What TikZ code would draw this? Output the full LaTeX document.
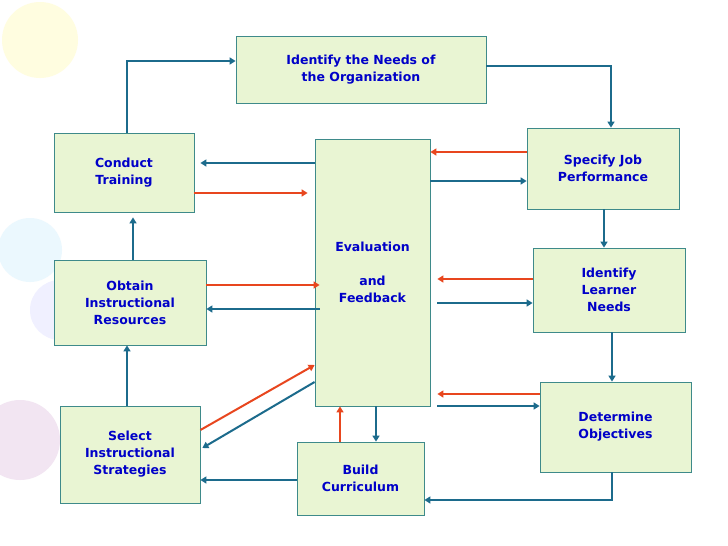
\documentclass[tikz,border=0pt]{standalone}
\usepackage{fontspec}
\setmainfont{DejaVu Sans}
\usetikzlibrary{arrows.meta}
\definecolor{boxf}{HTML}{E9F5D3}
\definecolor{boxd}{HTML}{3E8A8A}
\definecolor{txt}{HTML}{0000C8}
\definecolor{tl}{HTML}{1C6B8C}
\definecolor{og}{HTML}{E8461E}
\begin{document}
\begin{tikzpicture}[x=1pt,y=-1pt,
 box/.style={draw=boxd,fill=boxf,line width=0.8pt,align=center,text=txt,font=\bfseries\fontsize{12.5}{17}\selectfont,inner sep=0pt},
 t/.style={draw=tl,line width=2pt,-{Triangle[length=6pt,width=7pt]}},
 o/.style={draw=og,line width=2pt,-{Triangle[length=6pt,width=7pt]}}]
\useasboundingbox[fill=white] (0,0) rectangle (728,546);
% decorative balloons
\fill[yellow!12] (40,40) circle (38);
\fill[cyan!8] (30,250) circle (32);
\fill[blue!6] (60,310) circle (30);
\fill[violet!10] (20,440) circle (40);
\node[box,minimum width=250,minimum height=67] (need) at (361,69.5) {Identify the Needs of\\the Organization};
\node[box,minimum width=140,minimum height=79] (cond) at (124,172.5) {Conduct\\Training};
\node[box,minimum width=152,minimum height=85] (obt) at (130,302.5) {Obtain\\Instructional\\Resources};
\node[box,minimum width=140,minimum height=97] (sel) at (130,454.5) {Select\\Instructional\\Strategies};
\node[box,minimum width=115,minimum height=267] (eval) at (372.5,272.5) {Evaluation\\[17pt]and\\Feedback};
\node[box,minimum width=127,minimum height=73] (build) at (360.5,478.5) {Build\\Curriculum};
\node[box,minimum width=152,minimum height=81] (spec) at (603,168.5) {Specify Job\\Performance};
\node[box,minimum width=152,minimum height=84] (lrn) at (609,290) {Identify\\Learner\\Needs};
\node[box,minimum width=151,minimum height=90] (det) at (615.5,427) {Determine\\Objectives};
% main cycle
\draw[t] (cond.north -| 127,0) |- (need.west |- 0,61);
\draw[t] (need.east |- 0,66) -| (spec.north -| 611,0);
\draw[t] (spec.south -| 604,0) -- (lrn.north -| 604,0);
\draw[t] (lrn.south -| 612,0) -- (det.north -| 612,0);
\draw[t] (det.south -| 612,0) |- (build.east |- 0,500);
\draw[t] (build.west |- 0,480) -- (sel.east |- 0,480);
\draw[t] (sel.north -| 127,0) -- (obt.south -| 127,0);
\draw[t] (obt.north -| 133,0) -- ([yshift=-5]cond.south -| 133,0);
% feedback
\draw[t] (eval.west |- 0,163) -- ([xshift=6]cond.east |- 0,163);
\draw[o] (cond.east |- 0,193) -- ([xshift=-7]eval.west |- 0,193);
\draw[o] (obt.east |- 0,285) -- ([xshift=5]eval.west |- 0,285);
\draw[t] ([xshift=5]eval.west |- 0,309) -- (obt.east |- 0,309);
\draw[o] (sel.east |- 0,430) -- (eval.west |- 0,365);
\draw[t] (eval.west |- 0,382) -- ([xshift=2]sel.east |- 0,448);
\draw[o] (build.north -| 340,0) -- (eval.south -| 340,0);
\draw[t] (eval.south -| 376,0) -- (build.north -| 376,0);
\draw[o] (spec.west |- 0,152) -- (eval.east |- 0,152);
\draw[t] (eval.east |- 0,181) -- (spec.west |- 0,181);
\draw[o] (lrn.west |- 0,279) -- ([xshift=7]eval.east |- 0,279);
\draw[t] ([xshift=7]eval.east |- 0,303) -- (lrn.west |- 0,303);
\draw[o] (det.west |- 0,394) -- ([xshift=7]eval.east |- 0,394);
\draw[t] ([xshift=7]eval.east |- 0,406) -- (det.west |- 0,406);
\end{tikzpicture}
\end{document}
